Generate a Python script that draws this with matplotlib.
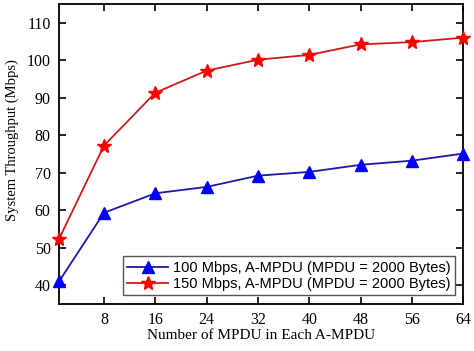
import matplotlib
matplotlib.use("Agg")
import matplotlib.pyplot as plt

# number of MPDU in each A-MPDU
mpdu_count = [1, 8, 16, 24, 32, 40, 48, 56, 64]
tput_100 = [41.0, 59.3, 64.5, 66.2, 69.2, 70.2, 72.1, 73.2, 75.1]
tput_150 = [52.3, 77.2, 91.3, 97.2, 100.1, 101.4, 104.2, 104.8, 106.0]

x_ticks = [8, 16, 24, 32, 40, 48, 56, 64]
y_ticks = [40, 50, 60, 70, 80, 90, 100, 110]

fig = plt.figure(figsize=(4.74, 3.51), dpi=100)
ax = fig.add_axes([0.1245, 0.134, 0.853, 0.855])

ax.plot(mpdu_count, tput_100, color="#1a1aa8", marker="^", markersize=8,
        markerfacecolor="#0000ff", markeredgecolor="#0000ff", linewidth=1.3,
        label="100 Mbps, A-MPDU (MPDU = 2000 Bytes)", clip_on=False, zorder=3)
ax.plot(mpdu_count, tput_150, color="#cc1a1a", marker="*", markersize=10,
        markerfacecolor="#ff0000", markeredgecolor="#ff0000", linewidth=1.3,
        label="150 Mbps, A-MPDU (MPDU = 2000 Bytes)", clip_on=False, zorder=3)

ax.set_xlim(1, 64)
ax.set_ylim(35, 115)
ax.set_xticks(x_ticks)
ax.set_yticks(y_ticks)
ax.tick_params(direction="in", top=True, right=True, length=5, width=1.2,
               labelsize=11.5, pad=6)
for lbl in ax.get_xticklabels() + ax.get_yticklabels():
    lbl.set_family("Liberation Serif")
for sp in ax.spines.values():
    sp.set_linewidth(1.3)

ax.set_xlabel("Number of MPDU in Each A-MPDU", family="Liberation Serif",
              fontsize=11)
ax.xaxis.set_label_coords(0.5, -0.085)
ax.set_ylabel("System Throughput (Mbps)", family="Liberation Serif",
              fontsize=10.5)
ax.yaxis.set_label_coords(-0.1, 0.547)

leg = ax.legend(loc="lower right", prop={"family": "Liberation Sans", "size": 10.5},
                fancybox=False, edgecolor="#555555", framealpha=1,
                borderaxespad=0.6, handlelength=2.8, borderpad=0.3,
                labelspacing=0.15, handletextpad=0.3)
leg.get_frame().set_linewidth(1.0)

fig.savefig("out.png", dpi=100)
